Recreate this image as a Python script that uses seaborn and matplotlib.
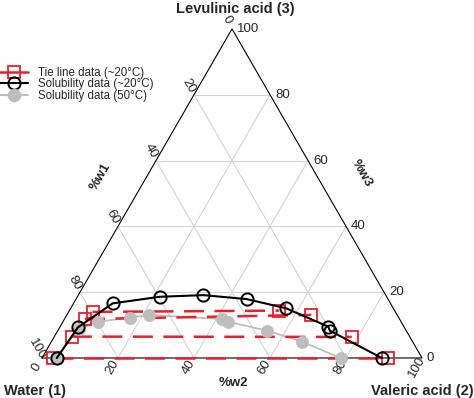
import numpy as np
import pandas as pd
import matplotlib
matplotlib.use("Agg")
import matplotlib.pyplot as plt
from matplotlib.lines import Line2D
import seaborn as sns

# ---- data (mass %, w2 = valeric acid, w3 = levulinic acid, w1 = water = 100 - w2 - w3)
sol20_w2 = [3.9, 4.8, 10.3, 21.7, 32.9, 44.9, 56.7, 70.6, 71.6, 89.4]
sol20_w3 = [0.0, 9.3, 16.6, 18.6, 19.1, 17.9, 15.1, 9.5, 8.3, 0.0]

sol50_w2 = [3.7, 5.3, 9.3, 17.0, 21.6, 41.4, 43.5, 55.1, 65.8, 78.6]
sol50_w3 = [0.0, 8.8, 11.0, 12.3, 13.1, 11.8, 11.0, 8.3, 5.0, 0.0]

tie_left_w2 = [3.0, 4.6, 6.3, 5.4]
tie_left_w3 = [0.0, 6.5, 14.0, 11.8]
tie_right_w2 = [91.1, 78.3, 55.2, 64.3]
tie_right_w3 = [0.0, 6.4, 14.4, 13.1]

ticks = [0, 20, 40, 60, 80, 100]
labels_vertices = ["Water (1)", "Valeric acid (2)", "Levulinic acid (3)"]
axis_titles = ["%w1", "%w2", "%w3"]
legend_labels = ["Tie line data (~20\u00b0C)", "Solubility data (~20\u00b0C)", "Solubility data (50\u00b0C)"]

S3 = np.sqrt(3) / 2


def tern(w2, w3):
    w2 = np.asarray(w2, float)
    w3 = np.asarray(w3, float)
    return w2 + w3 / 2.0, w3 * S3


sns.set_style("white")
plt.rcParams["font.family"] = ["Liberation Sans", "DejaVu Sans"]

fig = plt.figure(figsize=(4.74, 3.98), dpi=100)
ax = fig.add_axes([0, 0, 1, 1])
ax.set_xlim(-11.05, 113.68)
ax.set_ylim(-10.53, 94.21)
ax.axis("off")

RED = "#E8202A"
GRAY = "#BEBEBE"
GRID = "#D3D3D3"

# ---- grid lines
for v in [20, 40, 60, 80]:
    x, y = tern([0, 100 - v], [v, v])
    ax.plot(x, y, color=GRID, lw=0.8, zorder=1)
    x, y = tern([v, v], [0, 100 - v])
    ax.plot(x, y, color=GRID, lw=0.8, zorder=1)
    x, y = tern([100 - v, 0], [0, 100 - v])
    ax.plot(x, y, color=GRID, lw=0.8, zorder=1)

# ---- triangle border
x, y = tern([0, 100, 0, 0], [0, 0, 100, 0])
ax.plot(x, y, color="black", lw=0.8, zorder=1.5)

# ---- tick labels
off = 2.8
for t in ticks:
    x, y = tern(0, 100 - t)
    ax.text(x - 0.5 * off, y + S3 * off, str(t), rotation=-60, ha="center", va="center",
            fontsize=9.5)
    x, y = tern(t, 0)
    ax.text(x - 0.5 * off, y - S3 * off, str(t), rotation=60, ha="center", va="center",
            fontsize=9.5)
    x, y = tern(100 - t, t)
    ax.text(x + 1.3, y, str(t), ha="left", va="center", fontsize=9.5)

# ---- vertex labels and axis titles
ax.text(51.0, 91.8, labels_vertices[2], ha="center", va="center", fontsize=10.5, fontweight="bold")
ax.text(-1.9, -8.7, labels_vertices[0], ha="center", va="center", fontsize=10.5, fontweight="bold")
ax.text(100.2, -8.7, labels_vertices[1], ha="center", va="center", fontsize=10.5, fontweight="bold")
ax.text(15.3, 47.6, axis_titles[0], rotation=60, ha="center", va="center", fontsize=9.5, fontweight="bold")
ax.text(50.3, -6.6, axis_titles[1], ha="center", va="center", fontsize=9.5, fontweight="bold")
ax.text(84.1, 48.7, axis_titles[2], rotation=-60, ha="center", va="center", fontsize=9.5, fontweight="bold")

# ---- 50 C solubility line (gray)
gx, gy = tern(sol50_w2, sol50_w3)
df50 = pd.DataFrame({"x": gx, "y": gy})
sns.lineplot(data=df50, x="x", y="y", sort=False, estimator=None, ax=ax,
             color=GRAY, lw=1.3, zorder=2)

# ---- tie lines (red dashed with open squares)
lx, ly = tern(tie_left_w2, tie_left_w3)
rx, ry = tern(tie_right_w2, tie_right_w3)
n = len(tie_left_w2)
dft = pd.DataFrame({
    "x": np.concatenate([lx, rx]),
    "y": np.concatenate([ly, ry]),
    "tie": list(range(n)) * 2,
})
sns.lineplot(data=dft, x="x", y="y", units="tie", estimator=None, sort=False, ax=ax,
             color=RED, lw=1.8, linestyle=(0, (8.0, 4.2)), zorder=3)
sns.lineplot(data=dft, x="x", y="y", units="tie", estimator=None, sort=False, ax=ax,
             color=RED, linestyle="none", marker="s", ms=8.0, mfc="none", mec=RED,
             markeredgewidth=1.3, zorder=3)

# ---- gray markers on top
sns.lineplot(data=df50, x="x", y="y", sort=False, estimator=None, ax=ax,
             color=GRAY, linestyle="none", marker="o", ms=8.8, mfc=GRAY, mec=GRAY,
             markeredgewidth=0.5, zorder=4)

# ---- 20 C solubility (black, open circles)
bx, by = tern(sol20_w2, sol20_w3)
df20 = pd.DataFrame({"x": bx, "y": by})
sns.lineplot(data=df20, x="x", y="y", sort=False, estimator=None, ax=ax,
             color="black", lw=1.5, marker="o", ms=8.8, mfc="none", mec="black",
             markeredgewidth=1.4, zorder=5)

# ---- legend
handles = [
    Line2D([], [], color=RED, lw=1.8, marker="s", ms=8.0, mfc="none", mec=RED, mew=1.3),
    Line2D([], [], color="black", lw=1.5, marker="o", ms=8.8, mfc="none", mec="black", mew=1.4),
    Line2D([], [], color=GRAY, lw=1.5, marker="o", ms=8.8, mfc=GRAY, mec=GRAY),
]
fig.legend(handles, legend_labels, loc="upper left", bbox_to_anchor=(0.0, 0.832),
           frameon=False, fontsize=8.3, handlelength=2.4, handletextpad=0.9,
           borderpad=0, borderaxespad=0, labelspacing=-0.05)

fig.savefig("out.png", dpi=100)
